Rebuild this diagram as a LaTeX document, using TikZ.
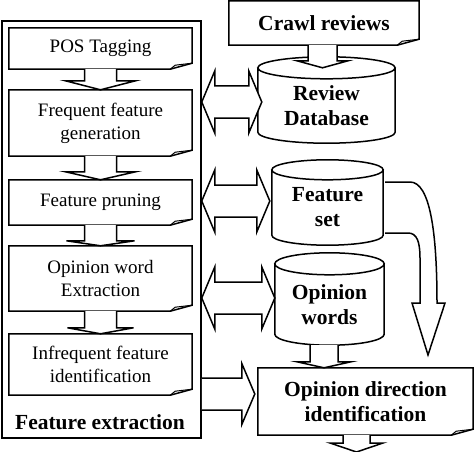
\documentclass[tikz,border=0pt]{standalone}
\usepackage{fontspec}
\setmainfont{Liberation Serif}
\usetikzlibrary{calc}

\tikzset{
  stage/.style={minimum width=183pt, inner sep=0pt, align=center, font=\fontsize{19}{23}\selectfont},
  store/.style={inner sep=0pt, align=center, font=\fontsize{21.5}{25}\selectfont\bfseries},
  outline/.style={line width=1.5pt, line join=miter},
  blockarrow/.style={draw, fill=white, line width=1.5pt, line join=miter},
}

% box with a curled corner
\newcommand{\foldbox}[1]{%
  \draw[outline] (#1.north west) -- (#1.north east) -- ([yshift=6pt]#1.south east)
    -- ([xshift=-22pt]#1.south east) -- (#1.south west) -- cycle;
  \draw[line width=1pt] ([yshift=6pt]#1.south east) -- ([xshift=-17pt,yshift=4pt]#1.south east)
    -- ([xshift=-22pt]#1.south east);
}
% cylinder round a node, #2 = half height of the ellipse
\newcommand{\drum}[2]{%
  \draw[outline] let \p1=(#1.north west), \p2=(#1.south east) in
    (\x1,\y1) -- (\x1,\y2+#2)
    arc[start angle=180, end angle=360, x radius={0.5*(\x2-\x1)}, y radius=#2] -- (\x2,\y1)
    (#1.north) ellipse[x radius={0.5*(\x2-\x1)}, y radius=#2];
}
% hollow arrow pointing down: from, to, shaft, head, head length
\newcommand{\downblock}[5]{%
  \draw[blockarrow] let \p1=#1, \p2=#2 in
    (\x1-#3,\y1) -- (\x1-#3,\y2+#5) -- (\x1-#4,\y2+#5) -- (\x1,\y2)
    -- (\x1+#4,\y2+#5) -- (\x1+#3,\y2+#5) -- (\x1+#3,\y1);
}
% hollow arrow with two heads
\newcommand{\twoway}[2]{%
  \draw[blockarrow] let \p1=#1, \p2=#2 in
    (\x1,\y1) -- (\x1+13pt,\y1+31pt) -- (\x1+13pt,\y1+16pt) -- (\x2-13pt,\y1+16pt)
    -- (\x2-13pt,\y1+31pt) -- (\x2,\y1) -- (\x2-13pt,\y1-31pt) -- (\x2-13pt,\y1-16pt)
    -- (\x1+13pt,\y1-16pt) -- (\x1+13pt,\y1-31pt) -- cycle;
}
% hollow arrow pointing right
\newcommand{\oneway}[2]{%
  \draw[blockarrow] let \p1=#1, \p2=#2 in
    (\x1,\y1+16pt) -- (\x2-13pt,\y1+16pt) -- (\x2-13pt,\y1+30.5pt) -- (\x2,\y1)
    -- (\x2-13pt,\y1-30.5pt) -- (\x2-13pt,\y1-16pt) -- (\x1,\y1-16pt);
}

\begin{document}
\begin{tikzpicture}[x=1pt, y=-1pt]
    \useasboundingbox[fill=white] (0,0) rectangle (474,452);

    % feature extraction frame
    \node[draw, outline, minimum width=199pt, minimum height=417pt, inner sep=0pt] (extract) at (101.5,229.5) {};
    \node[store] (extractlabel) at (100,422) {Feature extraction};

    \node[stage, minimum height=41pt] (pos) at (100.5,48.5) {POS Tagging};
    \node[stage, minimum height=66pt] (freq) at (100.5,123) {Frequent feature\\generation};
    \node[stage, minimum height=45pt] (prune) at (100.5,202.5) {Feature pruning};
    \node[stage, minimum height=65pt] (opword) at (100.5,278.5) {Opinion word\\Extraction};
    \node[stage, minimum height=61pt] (infreq) at (100.5,364.5) {Infrequent feature\\identification};
    \foreach \b in {pos,freq,prune,opword,infreq} {\foldbox{\b}}

    \downblock{(pos.south)}{(freq.north)}{16pt}{35pt}{9pt}
    \downblock{(freq.south)}{(prune.north)}{16pt}{35pt}{8pt}
    \downblock{(prune.south)}{(opword.north)}{16pt}{34pt}{5pt}
    \downblock{(opword.south)}{(infreq.north)}{16pt}{33pt}{6pt}

    % stores
    \node[store, minimum width=190pt, minimum height=44pt] (crawl) at (324,23) {Crawl reviews};
    \foldbox{crawl}
    \node[store, minimum width=137pt, minimum height=75pt] (revdb) at (326.5,105.5) {Review\\Database};
    \drum{revdb}{11pt}
    \node[store, minimum width=111pt, minimum height=75pt] (fset) at (327.5,207.5) {Feature\\set};
    \drum{fset}{10pt}
    \node[store, minimum width=109pt, minimum height=81pt] (opwords) at (329.5,304.5) {Opinion\\words};
    \drum{opwords}{11pt}
    \node[store, minimum width=215pt, minimum height=67pt] (dir) at (365.5,401.5) {Opinion direction\\identification};
    \foldbox{dir}

    \downblock{([xshift=-1.5pt]crawl.south)}{([xshift=-1.5pt]crawl.south |- revdb.north)}{14.5pt}{25.5pt}{7pt}
    \downblock{([xshift=-5.5pt]opwords.south)}{([xshift=-5.5pt]opwords.south |- dir.north)}{14pt}{27pt}{6pt}
    \coordinate (outend) at (356.5,452);
    \downblock{(outend |- dir.south)}{(outend)}{13.5pt}{26.5pt}{9pt}

    \twoway{([yshift=3.5pt]extract.east |- revdb.west)}{([xshift=4pt,yshift=3.5pt]revdb.west)}
    \twoway{([yshift=6.5pt]extract.east |- fset.west)}{([xshift=-2pt,yshift=6.5pt]fset.west)}
    \twoway{([yshift=6.5pt]extract.east |- opwords.west)}{([yshift=6.5pt]opwords.west)}
    \oneway{([yshift=7.5pt]extract.east |- dir.west)}{([xshift=-3pt,yshift=7.5pt]dir.west)}

    % bent arrow from the feature set
    \draw[blockarrow] (385,182) -- (410,182) .. controls (430,182) and (437,232) .. (437,303)
      -- (445,303) -- (428,355) -- (412,303) -- (420,303) -- (420,258)
      .. controls (420,242) and (417,233) .. (408,233) -- (385,233);
\end{tikzpicture}
\end{document}
